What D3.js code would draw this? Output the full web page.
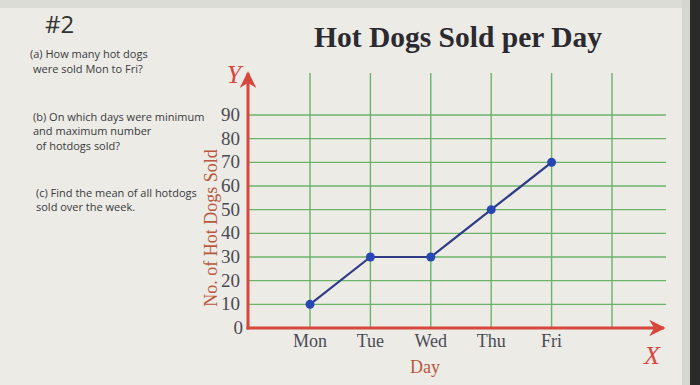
<!DOCTYPE html>
<html>
<head>
<meta charset="utf-8">
<script src="https://cdn.jsdelivr.net/npm/d3@7"></script>
<style>
  body { margin: 0; background: #ecebe5; }
  svg { display: block; }
</style>
</head>
<body>
<div class="chart"></div>
<script>
var svgWidth = 700;
var svgHeight = 385;

// chart data
var days = ["Mon", "Tue", "Wed", "Thu", "Fri"];
var sold = [10, 30, 30, 50, 70];
var gridX = ["Mon", "Tue", "Wed", "Thu", "Fri", ""];
var yTicks = [0, 10, 20, 30, 40, 50, 60, 70, 80, 90];
var questions = [
  "(a) How many hot dogs",
  "were sold Mon to Fri?",
  "(b) On which days were minimum",
  "and maximum number",
  "of hotdogs sold?",
  "(c) Find the mean of all hotdogs",
  "sold over the week."
];

var x0 = 248, y0 = 328;
var serif = "'Liberation Serif', 'DejaVu Serif', serif";
var red = "#d8473e";

var svg = d3.select(".chart")
  .append("svg")
  .attr("width", svgWidth)
  .attr("height", svgHeight);

svg.append("rect").attr("width", svgWidth).attr("height", svgHeight).attr("fill", "#ecebe5");
// screen edges from the photo
svg.append("rect").attr("x", 0).attr("y", 0).attr("width", svgWidth).attr("height", 8).attr("fill", "#dcdcd6");
svg.append("rect").attr("x", 682).attr("y", 0).attr("width", 8).attr("height", svgHeight).attr("fill", "#d6d6d0");
svg.append("rect").attr("x", 690).attr("y", 0).attr("width", 10).attr("height", svgHeight).attr("fill", "#2a2a2a");

var x = d3.scalePoint()
  .domain(gridX.map(function(d, i) { return i; }))
  .range([310, 612]);

var y = d3.scaleLinear()
  .domain([0, 90])
  .range([y0, 115]);

// grid
svg.append("g").selectAll("line.h")
  .data(yTicks.slice(1))
  .enter().append("line")
  .attr("x1", x0).attr("x2", 666)
  .attr("y1", d => y(d)).attr("y2", d => y(d))
  .attr("stroke", "#6cb36a").attr("stroke-width", 1.4);

svg.append("g").selectAll("line.v")
  .data(gridX)
  .enter().append("line")
  .attr("x1", (d, i) => x(i)).attr("x2", (d, i) => x(i))
  .attr("y1", 73).attr("y2", y0)
  .attr("stroke", "#6cb36a").attr("stroke-width", 1.4);

// y tick labels
svg.append("g").selectAll("text")
  .data(yTicks)
  .enter().append("text")
  .attr("x", d => d === 0 ? 243 : 240)
  .attr("y", d => y(d) + 6)
  .attr("text-anchor", "end")
  .attr("font-family", serif)
  .attr("font-size", "19px")
  .attr("fill", "#4a4a56")
  .text(d => d);

// x tick labels
svg.append("g").selectAll("text")
  .data(days)
  .enter().append("text")
  .attr("x", (d, i) => x(i))
  .attr("y", 347)
  .attr("text-anchor", "middle")
  .attr("font-family", serif)
  .attr("font-size", "18px")
  .attr("fill", "#4a4a56")
  .text(d => d);

// axes with arrows
var defs = svg.append("defs");
defs.append("marker")
  .attr("id", "arrow")
  .attr("viewBox", "0 0 10 10")
  .attr("refX", 9).attr("refY", 5)
  .attr("markerWidth", 9).attr("markerHeight", 5.5)
  .attr("markerUnits", "strokeWidth")
  .attr("orient", "auto")
  .append("path")
  .attr("d", "M0,0 L10,5 L0,10 L3,5 Z")
  .attr("fill", red);

svg.append("line")
  .attr("x1", x0).attr("y1", y0 + 1.5).attr("x2", x0).attr("y2", 73)
  .attr("stroke", red).attr("stroke-width", 3)
  .attr("marker-end", "url(#arrow)");
svg.append("line")
  .attr("x1", x0 - 1.5).attr("y1", y0).attr("x2", 664).attr("y2", y0)
  .attr("stroke", red).attr("stroke-width", 3)
  .attr("marker-end", "url(#arrow)");

// data line
var line = d3.line()
  .x((d, i) => x(i))
  .y(d => y(d));

svg.append("path")
  .datum(sold)
  .attr("d", line)
  .attr("fill", "none")
  .attr("stroke", "#2e3b86")
  .attr("stroke-width", 2.2);

svg.append("g").selectAll("circle")
  .data(sold)
  .enter().append("circle")
  .attr("cx", (d, i) => x(i))
  .attr("cy", d => y(d))
  .attr("r", 4.5)
  .attr("fill", "#2847b5");

// axis letters and labels
svg.append("text")
  .attr("x", 234).attr("y", 83)
  .attr("text-anchor", "middle")
  .attr("font-family", serif).attr("font-style", "italic")
  .attr("font-size", "26px").attr("fill", red)
  .text("Y");
svg.append("text")
  .attr("x", 652).attr("y", 364)
  .attr("text-anchor", "middle")
  .attr("font-family", serif).attr("font-style", "italic")
  .attr("font-size", "26px").attr("fill", red)
  .text("X");

svg.append("text")
  .attr("transform", "translate(217, 228) rotate(-90)")
  .attr("text-anchor", "middle")
  .attr("font-family", serif)
  .attr("font-size", "18px").attr("fill", "#b85840")
  .text("No. of Hot Dogs Sold");

svg.append("text")
  .attr("x", 425).attr("y", 373)
  .attr("text-anchor", "middle")
  .attr("font-family", serif)
  .attr("font-size", "18px").attr("fill", "#b85840")
  .text("Day");

svg.append("text")
  .attr("x", 458).attr("y", 47)
  .attr("text-anchor", "middle")
  .attr("font-family", serif).attr("font-weight", "bold")
  .attr("font-size", "29.5px").attr("fill", "#2a2a30")
  .text("Hot Dogs Sold per Day");

// worksheet text
svg.append("text")
  .attr("x", 45).attr("y", 33)
  .attr("font-family", "'Open Sans', sans-serif")
  .attr("font-size", "24px").attr("fill", "#333")
  .text("#2");

var qx = [30, 33, 33, 33, 36, 36, 36];
var qy = [58, 73, 121, 135, 150, 197, 211];
svg.append("g").selectAll("text")
  .data(questions)
  .enter().append("text")
  .attr("x", (d, i) => qx[i])
  .attr("y", (d, i) => qy[i])
  .attr("font-family", "'Open Sans', sans-serif")
  .attr("font-size", "11px")
  .attr("fill", "#3a3a40")
  .text(d => d);
</script>
</body>
</html>
